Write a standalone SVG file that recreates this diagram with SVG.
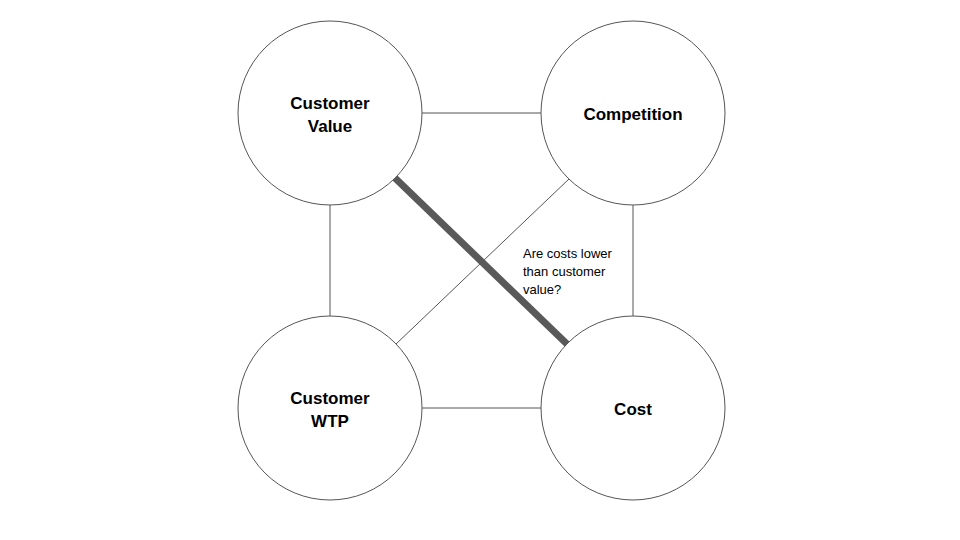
<svg xmlns="http://www.w3.org/2000/svg" width="960" height="540" viewBox="0 0 960 540">
<style>
.n{fill:#fff;stroke:#555;stroke-width:1}
.t{font-family:"Liberation Sans",Arial,sans-serif;font-weight:bold;font-size:17px;text-anchor:middle;fill:#000}
.c{stroke:#555;stroke-width:1;fill:none}
</style>
<rect width="960" height="540" fill="#fff"/>
<g id="connectors">
<line class="c" x1="422" y1="113" x2="541" y2="113"/>
<line class="c" x1="330" y1="205" x2="330" y2="316"/>
<line class="c" x1="633" y1="205" x2="633" y2="316"/>
<line class="c" x1="422" y1="408" x2="541" y2="408"/>
<line class="c" x1="570" y1="178" x2="395" y2="345"/>
<line x1="395" y1="178" x2="568" y2="345" stroke="#595959" stroke-width="7"/>
<text font-family="Liberation Sans,Arial,sans-serif" font-size="13" fill="#000"><tspan x="523" y="258">Are costs lower</tspan><tspan x="523" y="276">than customer</tspan><tspan x="523" y="294">value?</tspan></text>
</g>
<g id="customer-value"><circle class="n" cx="330" cy="113" r="92"/><text class="t" x="330" y="109">Customer</text><text class="t" x="330" y="132">Value</text></g>
<g id="competition"><circle class="n" cx="633" cy="113" r="92"/><text class="t" x="633" y="120">Competition</text></g>
<g id="customer-wtp"><circle class="n" cx="330" cy="408" r="92"/><text class="t" x="330" y="404">Customer</text><text class="t" x="330" y="427">WTP</text></g>
<g id="cost"><circle class="n" cx="633" cy="408" r="92"/><text class="t" x="633" y="415">Cost</text></g>
</svg>
